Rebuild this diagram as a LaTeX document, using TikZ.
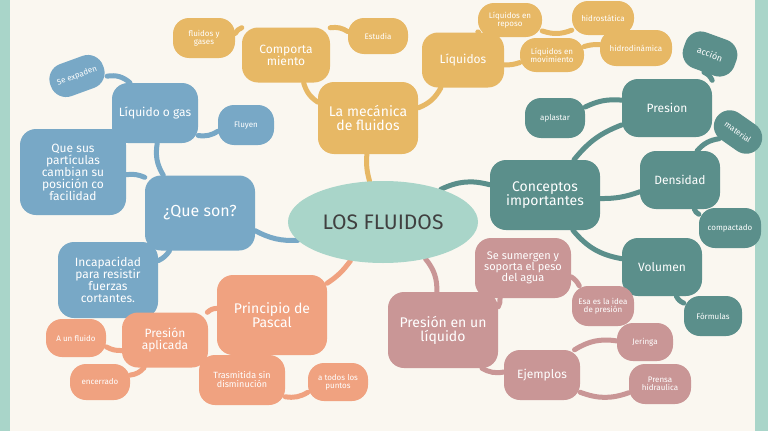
\documentclass[tikz,border=0pt]{standalone}
\usepackage{fontspec}
\setmainfont{Fira Sans}
\usetikzlibrary{shapes.geometric}
\definecolor{bg}{HTML}{FAF7F0}
\definecolor{frame}{HTML}{A9D5C9}
\definecolor{yel}{HTML}{E7B865}
\definecolor{blu}{HTML}{78A8C6}
\definecolor{tea}{HTML}{5B8F8B}
\definecolor{sal}{HTML}{F0A280}
\definecolor{ros}{HTML}{C99696}
\definecolor{ctr}{HTML}{A9D5C9}
\pgfdeclarelayer{edges}
\pgfdeclarelayer{bottom}
\pgfsetlayers{bottom,edges,main}
\hyphenpenalty=10000 \exhyphenpenalty=10000
\tikzset{bub/.style={rounded corners=16pt,text=white,align=center,inner sep=1pt,font=\fontsize{#1}{#1}\selectfont},
 lnk/.style={line width=5pt,line cap=round}}
\newcommand\bub[9][0]{\node[bub=#7,fill=#6,minimum width=#4,minimum height=#5,rotate=#1] (#2) at (#3) {#8#9};}
\begin{document}
\begin{tikzpicture}[x=1pt,y=-1pt]
\begin{pgfonlayer}{bottom}
\fill[frame] (0,0) rectangle (768,431);
\fill[bg] (10,0) rectangle (755,431);
\end{pgfonlayer}
\useasboundingbox (0,0) rectangle (768,431);
\node[ellipse,fill=ctr,minimum width=190,minimum height=82,text=black!75,font=\fontsize{21}{21}\selectfont] (c) at (383,222) {LOS FLUIDOS};
% yellow
\bub{mec}{368,118}{100}{72}{yel}{14}{}{La mecánica\\de fluidos}
\bub{com}{286,55}{88}{55}{yel}{12}{}{Comporta\\miento}
\bub{fyg}{204,38}{62}{40}{yel}{8}{}{fluidos y\\gases}
\bub{est}{378,36}{60}{36}{yel}{8}{}{Estudia}
\bub{liq}{463,60}{82}{55}{yel}{12}{}{Líquidos}
\bub{rep}{510,20}{64}{34}{yel}{8}{}{Líquidos en\\reposo}
\bub{hst}{603,18}{62}{34}{yel}{8}{}{hidrostática}
\bub{mov}{552,55}{64}{34}{yel}{8}{}{Líquidos en\\movimiento}
\bub{hdi}{636,48}{72}{36}{yel}{8}{}{hidrodinámica}
% blue
\bub{qs}{200,213}{110}{75}{blu}{16}{}{¿Que son?}
\bub{lg}{155,113}{86}{60}{blu}{12}{}{Líquido o gas}
\bub[20]{se}{77,76}{56}{34}{blu}{8}{}{Se expaden}
\bub{fl}{246,125}{56}{40}{blu}{8}{}{Fluyen}
\bub{qsp}{73,172}{106}{86}{blu}{12}{}{Que sus\\partículas\\cambian su\\posición co\\facilidad}
\bub{inc}{108,280}{100}{76}{blu}{12}{}{Incapacidad\\para resistir\\fuerzas\\cortantes.}
% teal
\bub{con}{545,195}{110}{70}{tea}{14}{}{Conceptos\\importantes}
\bub{pre}{667,108}{90}{58}{tea}{12}{}{Presion}
\bub[-20]{acc}{710,54}{54}{38}{tea}{9}{}{acción}
\bub{apl}{555,118}{60}{40}{tea}{8}{}{aplastar}
\bub[-35]{mat}{738,132}{52}{32}{tea}{8}{}{material}
\bub{den}{680,180}{80}{58}{tea}{12}{}{Densidad}
\bub{cmp}{730,228}{62}{40}{tea}{8}{}{compactado}
\bub{vol}{662,267}{80}{58}{tea}{12}{}{Volumen}
\bub{for}{713,316}{58}{40}{tea}{8}{}{Fórmulas}
% rose
\bub{sum}{523,268}{96}{60}{ros}{11}{}{Se sumergen y\\soporta el peso\\del agua}
\bub{esa}{603,306}{62}{40}{ros}{8}{}{Esa es la idea\\de presión}
\bub{pel}{443,330}{110}{76}{ros}{14}{}{Presión en un\\líquido}
\bub{jer}{645,342}{56}{38}{ros}{8}{}{Jeringa}
\bub{eje}{542,375}{76}{50}{ros}{12}{}{Ejemplos}
\bub{pen}{660,384}{62}{40}{ros}{8}{}{Prensa\\hidraulica}
% salmon
\bub{pp}{272,315}{110}{80}{sal}{14}{}{Principio de\\Pascal}
\bub{pa}{165,340}{86}{55}{sal}{12}{}{Presión\\aplicada}
\bub{auf}{76,338}{60}{38}{sal}{8}{}{A un fluido}
\bub{enc}{100,382}{60}{36}{sal}{8}{}{encerrado}
\bub{tra}{242,380}{86}{50}{sal}{9}{}{Trasmitida sin\\disminución}
\bub{tod}{338,382}{60}{38}{sal}{8}{}{a todos los\\puntos}
\begin{pgfonlayer}{edges}
\draw[lnk,yel] (c) to[bend left=10] (mec);
\draw[lnk,yel] (mec) to[bend left=20] (com);
\draw[lnk,yel] (com) to[bend right=20] (fyg);
\draw[lnk,yel] (com) to[bend left=20] (est);
\draw[lnk,yel] (mec) to[bend right=20] (liq);
\draw[lnk,yel] (liq) to[bend left=20] (rep);
\draw[lnk,yel] (rep) to[bend right=20] (hst);
\draw[lnk,yel] (liq) to[bend right=10] (mov);
\draw[lnk,yel] (mov) to[bend left=10] (hdi);
\draw[lnk,blu] (c) to[bend left=15] (qs);
\draw[lnk,blu] (qs) to[bend left=20] (lg);
\draw[lnk,blu] (lg) to[bend right=25] (se);
\draw[lnk,blu] (lg) to[bend right=20] (fl);
\draw[lnk,blu] (qs) to[bend right=15] (qsp);
\draw[lnk,blu] (qs) to[bend left=15] (inc);
\draw[lnk,tea] (c) to[bend left=20] (con);
\draw[lnk,tea] (con) to[bend left=15] (pre);
\draw[lnk,tea] (pre) to[bend right=20] (acc);
\draw[lnk,tea] (pre) to[bend right=15] (apl);
\draw[lnk,tea] (den) to[bend left=20] (mat);
\draw[lnk,tea] (con) to[bend right=10] (den);
\draw[lnk,tea] (den) to[bend right=20] (cmp);
\draw[lnk,tea] (con) to[bend right=20] (vol);
\draw[lnk,tea] (vol) to[bend right=20] (for);
\draw[lnk,ros] (c) to[bend left=20] (pel);
\draw[lnk,ros] (pel) to[bend right=15] (sum);
\draw[lnk,ros] (sum) to[bend left=15] (esa);
\draw[lnk,ros] (pel) to[bend right=20] (eje);
\draw[lnk,ros] (eje) to[bend left=20] (jer);
\draw[lnk,ros] (eje) to[bend right=20] (pen);
\draw[lnk,sal] (c) to[bend left=10] (pp);
\draw[lnk,sal] (pp) to[bend right=20] (pa);
\draw[lnk,sal] (pa) to[bend left=15] (auf);
\draw[lnk,sal] (pa) to[bend left=20] (enc);
\draw[lnk,sal] (pp) to[bend right=10] (tra);
\draw[lnk,sal] (tra) to[bend right=20] (tod);
\end{pgfonlayer}
\end{tikzpicture}
\end{document}
